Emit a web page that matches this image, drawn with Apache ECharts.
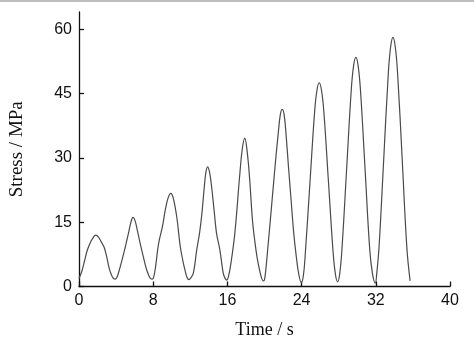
<!DOCTYPE html>
<html>
<head>
<meta charset="utf-8">
<script src="https://cdn.jsdelivr.net/npm/echarts@6/dist/echarts.min.js"></script>
<style>
  html, body { margin: 0; padding: 0; background: #fff; }
  #chartContainer { width: 474px; height: 353px; }
</style>
</head>
<body>
<div id="chartContainer"></div>
<script>
// values (time in s, stress in MPa)
const timeValues = [
    0, 0.3, 0.6, 0.9, 1.25, 1.5, 1.8, 2.1, 2.4, 2.7, 3.0, 3.25, 3.5, 3.7, 3.9,
    4.1, 4.3, 4.64, 5.0, 5.36, 5.6, 5.82, 6.05, 6.25, 6.6, 6.97, 7.25, 7.5, 7.7, 7.9,
    8.05, 8.25, 8.58, 9.0, 9.3, 9.6, 9.9, 10.15, 10.54, 10.9, 11.2, 11.43, 11.65, 11.86,
    12.05, 12.33, 12.69, 13.0, 13.25, 13.5, 13.68, 13.87, 14.07, 14.3, 14.6, 14.83, 15.19, 15.55, 15.75, 15.94,
    16.1, 16.35, 16.8, 17.33, 17.6, 17.87, 18.13, 18.4, 18.7, 18.94, 19.2, 19.47, 19.7, 19.9,
    20.05, 20.38, 20.91, 21.2, 21.45, 21.7, 21.91, 22.12, 22.34, 22.6, 22.87, 23.15, 23.4, 23.7, 23.98,
    24.2, 24.4, 24.9, 25.4, 25.65, 25.9, 26.15, 26.4, 26.9, 27.4, 27.65, 27.88,
    28.1, 28.35, 28.85, 29.35, 29.6, 29.85, 30.1, 30.35, 30.85, 31.35, 31.65, 31.95,
    32.1, 32.35, 32.85, 33.35, 33.6, 33.85, 34.1, 34.35, 34.85, 35.35, 35.7
];
const stressValues = [
    1.9, 3.5, 6.0, 8.5, 10.4, 11.3, 12.0, 11.5, 10.4, 9.2, 6.8, 4.3, 2.7, 1.9, 1.7,
    2.2, 3.5, 6.2, 9.3, 12.7, 15.0, 16.1, 15.3, 13.5, 10.0, 6.6, 4.2, 2.7, 1.9, 1.7,
    2.2, 4.5, 10.0, 14.0, 17.8, 20.6, 21.7, 20.7, 16.2, 9.6, 6.0, 3.8, 2.1, 1.6,
    2.0, 3.1, 8.5, 12.5, 17.0, 23.0, 26.6, 27.9, 26.7, 23.2, 17.0, 12.4, 8.5, 3.1, 1.9, 1.5,
    2.2, 5.0, 12.4, 26.0, 32.0, 34.6, 31.5, 25.0, 15.5, 10.8, 6.8, 3.8, 1.9, 1.3,
    2.2, 9.5, 22.4, 29.5, 35.0, 40.0, 41.3, 40.0, 35.0, 27.5, 20.1, 12.5, 7.5, 2.8, 0.9,
    2.7, 7.7, 24.2, 40.6, 45.7, 47.5, 45.7, 40.7, 24.3, 7.9, 2.8, 1.1,
    2.8, 8.7, 27.2, 45.7, 51.4, 53.4, 51.4, 45.7, 27.1, 8.5, 2.9, 0.8,
    3.0, 9.2, 29.5, 49.7, 55.9, 58.1, 55.9, 49.7, 29.5, 9.0, 1.3
];
const xTicks = [0, 8, 16, 24, 32, 40];
const yTicks = [0, 15, 30, 45, 60];

const myChart = echarts.init(document.getElementById('chartContainer'));

const axisStyle = { lineStyle: { color: '#111', width: 1.3 } };
const tickStyle = { inside: true, length: 5, lineStyle: { color: '#111', width: 1.3 } };

const option = {
    animation: false,
    backgroundColor: '#fff',
    graphic: [{
        type: 'rect',
        shape: { x: 0, y: 0, width: 474, height: 2 },
        style: { fill: '#bdbdbd' }
    }],
    grid: { left: 77, right: 24, top: 12, bottom: 66.5 },
    xAxis: {
        type: 'value',
        min: 0, max: 40, interval: 8,
        name: 'Time / s',
        nameLocation: 'middle',
        nameGap: 35,
        nameTextStyle: { fontFamily: 'Liberation Serif', fontSize: 18, color: '#111' },
        axisLine: axisStyle,
        axisTick: Object.assign({ customValues: xTicks }, tickStyle),
        axisLabel: { customValues: xTicks, margin: 6, fontFamily: 'Liberation Sans', fontSize: 16, color: '#111' },
        splitLine: { show: false }
    },
    yAxis: {
        type: 'value',
        min: 0, max: 64,
        name: 'Stress / MPa',
        nameLocation: 'middle',
        nameGap: 52,
        nameTextStyle: { fontFamily: 'Liberation Serif', fontSize: 19, color: '#111' },
        axisLine: axisStyle,
        axisTick: Object.assign({ customValues: yTicks }, tickStyle),
        axisLabel: { customValues: yTicks, margin: 7, fontFamily: 'Liberation Sans', fontSize: 16, color: '#111' },
        splitLine: { show: false }
    },
    series: [{
        type: 'line',
        data: timeValues.map((t, i) => [t, stressValues[i]]),
        smooth: 0.4,
        showSymbol: false,
        lineStyle: { color: '#4a4a4a', width: 1.2 }
    }]
};

myChart.setOption(option);
</script>
</body>
</html>
